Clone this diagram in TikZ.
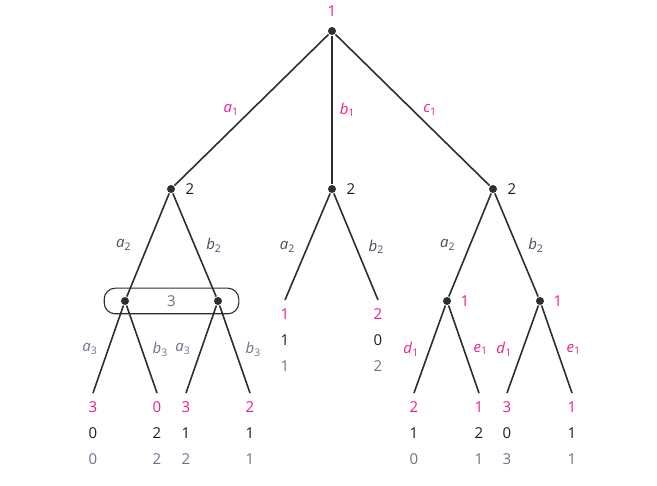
\documentclass[tikz,border=0pt]{standalone}
\usepackage{fontspec}
\setmainfont{Open Sans}
\usetikzlibrary{positioning,fit}
\definecolor{pone}{HTML}{EC1C8C}
\definecolor{ptwo}{HTML}{1E1E1E}
\definecolor{pthree}{HTML}{7D6A86}
\definecolor{move}{HTML}{4B4B5B}
\definecolor{branch}{HTML}{2E2E2E}
\newcommand{\mv}[2]{\textit{#1}\textsubscript{#2}}

\begin{document}
\begin{tikzpicture}[x=1pt,y=-1pt,line width=1.6pt,draw=branch,
		font=\fontsize{15}{17}\selectfont]
		\tikzset{dec/.style={circle,fill=branch,inner sep=0pt,minimum size=8pt},
			lbl/.style={inner sep=0pt,text=move},
			pay/.style={inner sep=0pt}}
		\useasboundingbox (0,0) rectangle (657,486);
		
		% decision nodes
		\node[dec,label={[text=pone,inner sep=0pt,label distance=9pt]above:1}] (root) at (332,31) {};
		\node[dec,label={[text=ptwo,inner sep=0pt,label distance=9pt]right:2}] (n2a) at (171,189) {};
		\node[dec,label={[text=ptwo,inner sep=0pt,label distance=9pt]right:2}] (n2b) at (332,189) {};
		\node[dec,label={[text=ptwo,inner sep=0pt,label distance=9pt]right:2}] (n2c) at (493,189) {};
		\node[dec] (n3a) at (125,301) {};
		\node[dec] (n3b) at (218,301) {};
		\node[dec,label={[text=pone,inner sep=0pt,label distance=8pt]right:1}] (n1a) at (447,301) {};
		\node[dec,label={[text=pone,inner sep=0pt,label distance=8pt]right:1}] (n1b) at (540,301) {};
		
		% information set of player 3
		\node[draw,line width=1.1pt,rounded corners=11pt,inner xsep=16pt,inner ysep=8pt,
			fit=(n3a)(n3b),label={[text=pthree]center:3}] (info) {};
		
		% terminal points
		\coordinate (m1) at (285,300);
		\coordinate (m2) at (378,300);
		\coordinate (t1) at (93,393);
		\coordinate (t2) at (157,393);
		\coordinate (t3) at (186,393);
		\coordinate (t4) at (250,393);
		\coordinate (t5) at (414,393);
		\coordinate (t6) at (479,393);
		\coordinate (t7) at (507,393);
		\coordinate (t8) at (572,393);
		
		\draw (root) -- node[lbl,text=pone,left=12pt] {\mv{a}{1}} (n2a);
		\draw (root) -- node[lbl,text=pone,right=7pt] {\mv{b}{1}} (n2b);
		\draw (root) -- node[lbl,text=pone,right=10pt] {\mv{c}{1}} (n2c);
		
		\draw (n2a) -- node[lbl,left=16pt] {\mv{a}{2}} (n3a);
		\draw (n2a) -- node[lbl,right=11pt] {\mv{b}{2}} (n3b);
		\draw (n2b) -- node[lbl,left=12pt] {\mv{a}{2}} (m1);
		\draw (n2b) -- node[lbl,right=12pt] {\mv{b}{2}} (m2);
		\draw (n2c) -- node[lbl,left=14pt] {\mv{a}{2}} (n1a);
		\draw (n2c) -- node[lbl,right=11pt] {\mv{b}{2}} (n1b);
		
		\draw (n3a) -- node[lbl,text=pthree,left=10pt] {\mv{a}{3}} (t1);
		\draw (n3a) -- node[lbl,text=pthree,right=10pt] {\mv{b}{3}} (t2);
		\draw (n3b) -- node[lbl,text=pthree,left=10pt] {\mv{a}{3}} (t3);
		\draw (n3b) -- node[lbl,text=pthree,right=10pt] {\mv{b}{3}} (t4);
		\draw (n1a) -- node[lbl,text=pone,left=10pt] {\mv{d}{1}} (t5);
		\draw (n1a) -- node[lbl,text=pone,right=9pt] {\mv{e}{1}} (t6);
		\draw (n1b) -- node[lbl,text=pone,left=10pt] {\mv{d}{1}} (t7);
		\draw (n1b) -- node[lbl,text=pone,right=9pt] {\mv{e}{1}} (t8);
		
		% payoffs
		\foreach \n/\p/\q/\r in {t1/3/0/0,t2/0/2/2,t3/3/1/2,t4/2/1/1,m1/1/1/1,
			m2/2/0/2,t5/2/1/0,t6/1/2/1,t7/3/0/3,t8/1/1/1}{
			\node[pay,text=pone] (\n-1) at ([yshift=-14pt]\n) {\p};
			\node[pay,text=ptwo] (\n-2) at ([yshift=-26pt]\n-1) {\q};
			\node[pay,text=pthree] (\n-3) at ([yshift=-26pt]\n-2) {\r};
		}
\end{tikzpicture}
\end{document}
